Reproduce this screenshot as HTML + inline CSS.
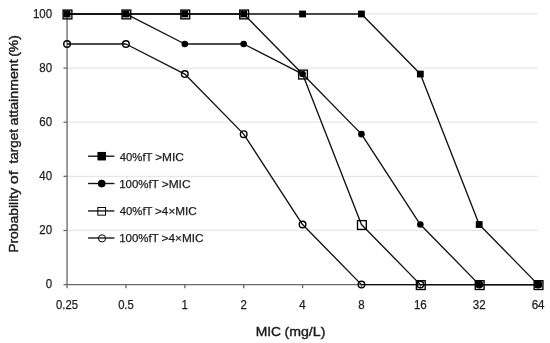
<!DOCTYPE html>
<html><head><meta charset="utf-8"><title>Probability of target attainment</title>
<style>
html,body{margin:0;padding:0;background:#fff;}
body{width:550px;height:343px;overflow:hidden;}
svg{display:block;}
text{font-family:"Liberation Sans",sans-serif;fill:#1c1c1c;stroke:#1c1c1c;stroke-width:0.25px;}
.t{stroke-width:0.4px;}
</style></head><body>
<svg width="550" height="343" viewBox="0 0 550 343">
<rect width="550" height="343" fill="#fff"/>

<line x1="67.05" x2="538.09" y1="230.47" y2="230.47" stroke="#e7e7e7" stroke-width="1.2"/>
<line x1="67.05" x2="538.09" y1="176.35" y2="176.35" stroke="#e7e7e7" stroke-width="1.2"/>
<line x1="67.05" x2="538.09" y1="122.22" y2="122.22" stroke="#e7e7e7" stroke-width="1.2"/>
<line x1="67.05" x2="538.09" y1="68.1" y2="68.1" stroke="#e7e7e7" stroke-width="1.2"/>
<line x1="67.05" x2="538.09" y1="13.97" y2="13.97" stroke="#e7e7e7" stroke-width="1.2"/>
<line x1="67.05" x2="67.05" y1="13.97" y2="288.20000000000005" stroke="#6a6a6a" stroke-width="1.35"/>
<line x1="63.449999999999996" x2="538.09" y1="284.6" y2="284.6" stroke="#6a6a6a" stroke-width="1.35"/>
<line x1="63.449999999999996" x2="67.05" y1="230.47" y2="230.47" stroke="#6a6a6a" stroke-width="1.3"/>
<line x1="63.449999999999996" x2="67.05" y1="176.35" y2="176.35" stroke="#6a6a6a" stroke-width="1.3"/>
<line x1="63.449999999999996" x2="67.05" y1="122.22" y2="122.22" stroke="#6a6a6a" stroke-width="1.3"/>
<line x1="63.449999999999996" x2="67.05" y1="68.1" y2="68.1" stroke="#6a6a6a" stroke-width="1.3"/>
<line x1="63.449999999999996" x2="67.05" y1="13.97" y2="13.97" stroke="#6a6a6a" stroke-width="1.3"/>
<line x1="125.93" x2="125.93" y1="284.6" y2="288.20000000000005" stroke="#6a6a6a" stroke-width="1.3"/>
<line x1="184.81" x2="184.81" y1="284.6" y2="288.20000000000005" stroke="#6a6a6a" stroke-width="1.3"/>
<line x1="243.69" x2="243.69" y1="284.6" y2="288.20000000000005" stroke="#6a6a6a" stroke-width="1.3"/>
<line x1="302.57" x2="302.57" y1="284.6" y2="288.20000000000005" stroke="#6a6a6a" stroke-width="1.3"/>
<line x1="361.45" x2="361.45" y1="284.6" y2="288.20000000000005" stroke="#6a6a6a" stroke-width="1.3"/>
<line x1="420.33" x2="420.33" y1="284.6" y2="288.20000000000005" stroke="#6a6a6a" stroke-width="1.3"/>
<line x1="479.21" x2="479.21" y1="284.6" y2="288.20000000000005" stroke="#6a6a6a" stroke-width="1.3"/>
<line x1="538.09" x2="538.09" y1="284.6" y2="288.20000000000005" stroke="#6a6a6a" stroke-width="1.3"/>
<polyline points="67.05,13.97 125.93,13.97 184.81,13.97 243.69,13.97 302.57,13.97 361.45,13.97 420.33,74.05 479.21,224.52 538.09,284.6" fill="none" stroke="#111" stroke-width="1.35" stroke-linejoin="round"/>
<polyline points="67.05,13.97 125.93,13.97 184.81,44.01 243.69,44.01 302.57,74.05 361.45,134.13 420.33,224.52 479.21,284.6 538.09,284.6" fill="none" stroke="#111" stroke-width="1.35" stroke-linejoin="round"/>
<polyline points="67.05,13.97 125.93,13.97 184.81,13.97 243.69,13.97 302.57,74.05 361.45,224.52 420.33,284.6 479.21,284.6 538.09,284.6" fill="none" stroke="#111" stroke-width="1.35" stroke-linejoin="round"/>
<polyline points="67.05,44.01 125.93,44.01 184.81,74.05 243.69,134.13 302.57,224.52 361.45,284.6 420.33,284.6 479.21,284.6 538.09,284.6" fill="none" stroke="#111" stroke-width="1.35" stroke-linejoin="round"/>
<rect x="63.65" y="10.57" width="6.8" height="6.8" fill="#000"/>
<rect x="122.53" y="10.57" width="6.8" height="6.8" fill="#000"/>
<rect x="181.41" y="10.57" width="6.8" height="6.8" fill="#000"/>
<rect x="240.29" y="10.57" width="6.8" height="6.8" fill="#000"/>
<rect x="299.17" y="10.57" width="6.8" height="6.8" fill="#000"/>
<rect x="358.05" y="10.57" width="6.8" height="6.8" fill="#000"/>
<rect x="416.93" y="70.65" width="6.8" height="6.8" fill="#000"/>
<rect x="475.81" y="221.12" width="6.8" height="6.8" fill="#000"/>
<rect x="534.69" y="281.20" width="6.8" height="6.8" fill="#000"/>
<circle cx="67.05" cy="13.97" r="3.3" fill="#000"/>
<circle cx="125.93" cy="13.97" r="3.3" fill="#000"/>
<circle cx="184.81" cy="44.01" r="3.3" fill="#000"/>
<circle cx="243.69" cy="44.01" r="3.3" fill="#000"/>
<circle cx="302.57" cy="74.05" r="3.3" fill="#000"/>
<circle cx="361.45" cy="134.13" r="3.3" fill="#000"/>
<circle cx="420.33" cy="224.52" r="3.3" fill="#000"/>
<circle cx="479.21" cy="284.6" r="3.3" fill="#000"/>
<circle cx="538.09" cy="284.6" r="3.3" fill="#000"/>
<rect x="63.10" y="10.07" width="8.8" height="8.8" fill="none" stroke="#000" stroke-width="1.35"/>
<rect x="121.98" y="10.07" width="8.8" height="8.8" fill="none" stroke="#000" stroke-width="1.35"/>
<rect x="180.86" y="10.07" width="8.8" height="8.8" fill="none" stroke="#000" stroke-width="1.35"/>
<rect x="239.74" y="10.07" width="8.8" height="8.8" fill="none" stroke="#000" stroke-width="1.35"/>
<rect x="298.62" y="70.15" width="8.8" height="8.8" fill="none" stroke="#000" stroke-width="1.35"/>
<rect x="357.50" y="220.62" width="8.8" height="8.8" fill="none" stroke="#000" stroke-width="1.35"/>
<rect x="416.38" y="280.70" width="8.8" height="8.8" fill="none" stroke="#000" stroke-width="1.35"/>
<rect x="475.26" y="280.70" width="8.8" height="8.8" fill="none" stroke="#000" stroke-width="1.35"/>
<rect x="534.14" y="280.70" width="8.8" height="8.8" fill="none" stroke="#000" stroke-width="1.35"/>
<circle cx="67.05" cy="44.01" r="3.3" fill="none" stroke="#000" stroke-width="1.4"/>
<circle cx="125.93" cy="44.01" r="3.3" fill="none" stroke="#000" stroke-width="1.4"/>
<circle cx="184.81" cy="74.05" r="3.3" fill="none" stroke="#000" stroke-width="1.4"/>
<circle cx="243.69" cy="134.13" r="3.3" fill="none" stroke="#000" stroke-width="1.4"/>
<circle cx="302.57" cy="224.52" r="3.3" fill="none" stroke="#000" stroke-width="1.4"/>
<circle cx="361.45" cy="284.6" r="3.3" fill="none" stroke="#000" stroke-width="1.4"/>
<circle cx="420.33" cy="284.6" r="3.3" fill="none" stroke="#000" stroke-width="1.4"/>
<circle cx="479.21" cy="284.6" r="3.3" fill="none" stroke="#000" stroke-width="1.4"/>
<circle cx="538.09" cy="284.6" r="3.3" fill="none" stroke="#000" stroke-width="1.4"/>
<text x="52.1" y="288.20" font-size="12.8" text-anchor="end" textLength="6.4" lengthAdjust="spacingAndGlyphs">0</text>
<text x="52.1" y="234.07" font-size="12.8" text-anchor="end" textLength="12.8" lengthAdjust="spacingAndGlyphs">20</text>
<text x="52.1" y="179.95" font-size="12.8" text-anchor="end" textLength="12.8" lengthAdjust="spacingAndGlyphs">40</text>
<text x="52.1" y="125.82" font-size="12.8" text-anchor="end" textLength="12.8" lengthAdjust="spacingAndGlyphs">60</text>
<text x="52.1" y="71.70" font-size="12.8" text-anchor="end" textLength="12.8" lengthAdjust="spacingAndGlyphs">80</text>
<text x="52.1" y="17.57" font-size="12.8" text-anchor="end" textLength="19.200000000000003" lengthAdjust="spacingAndGlyphs">100</text>
<text x="56.10" y="309" font-size="12.6" textLength="21.9" lengthAdjust="spacingAndGlyphs">0.25</text>
<text x="118.13" y="309" font-size="12.6" textLength="15.6" lengthAdjust="spacingAndGlyphs">0.5</text>
<text x="181.61" y="309" font-size="12.6" textLength="6.4" lengthAdjust="spacingAndGlyphs">1</text>
<text x="240.49" y="309" font-size="12.6" textLength="6.4" lengthAdjust="spacingAndGlyphs">2</text>
<text x="299.37" y="309" font-size="12.6" textLength="6.4" lengthAdjust="spacingAndGlyphs">4</text>
<text x="358.25" y="309" font-size="12.6" textLength="6.4" lengthAdjust="spacingAndGlyphs">8</text>
<text x="413.88" y="309" font-size="12.6" textLength="12.9" lengthAdjust="spacingAndGlyphs">16</text>
<text x="472.76" y="309" font-size="12.6" textLength="12.9" lengthAdjust="spacingAndGlyphs">32</text>
<text x="531.64" y="309" font-size="12.6" textLength="12.9" lengthAdjust="spacingAndGlyphs">64</text>
<text class="t" y="336" font-size="13.2"><tspan x="255.66" textLength="25.44" lengthAdjust="spacingAndGlyphs">MIC</tspan> <tspan x="284.49" textLength="40.87" lengthAdjust="spacingAndGlyphs">(mg/L)</tspan></text>
<text class="t" transform="translate(18.2,251.9) rotate(-90)" y="0" font-size="13.2"><tspan x="-0.96" textLength="64.95" lengthAdjust="spacingAndGlyphs">Probability</tspan> <tspan x="67.56" textLength="13.57" lengthAdjust="spacingAndGlyphs">of</tspan> <tspan x="88.47" textLength="34.39" lengthAdjust="spacingAndGlyphs">target</tspan> <tspan x="126.45" textLength="66.04" lengthAdjust="spacingAndGlyphs">attainment</tspan> <tspan x="195.12" textLength="21.55" lengthAdjust="spacingAndGlyphs">(%)</tspan></text>
<line x1="88.1" x2="114.4" y1="156.2" y2="156.2" stroke="#111" stroke-width="1.35"/>
<rect x="97.45" y="151.95" width="8.5" height="8.5" fill="#000"/>
<text y="161" font-size="11.8"><tspan x="119.75" textLength="32.56" lengthAdjust="spacingAndGlyphs">40%fT</tspan> <tspan x="155.16" textLength="28.74" lengthAdjust="spacingAndGlyphs">&gt;MIC</tspan></text>
<line x1="88.1" x2="114.4" y1="183.5" y2="183.5" stroke="#111" stroke-width="1.35"/>
<circle cx="101.7" cy="183.6" r="3.85" fill="#000"/>
<text y="188" font-size="11.8"><tspan x="119.18" textLength="39.40" lengthAdjust="spacingAndGlyphs">100%fT</tspan> <tspan x="161.67" textLength="28.87" lengthAdjust="spacingAndGlyphs">&gt;MIC</tspan></text>
<line x1="88.1" x2="114.4" y1="210.95" y2="210.95" stroke="#111" stroke-width="1.35"/>
<rect x="97.85" y="207.45" width="7.7" height="7.7" fill="none" stroke="#000" stroke-width="1.0"/>
<text y="215" font-size="11.8"><tspan x="119.75" textLength="32.56" lengthAdjust="spacingAndGlyphs">40%fT</tspan> <tspan x="155.01" textLength="41.75" lengthAdjust="spacingAndGlyphs">&gt;4×MIC</tspan></text>
<line x1="88.1" x2="114.4" y1="238.0" y2="238.0" stroke="#111" stroke-width="1.35"/>
<circle cx="102.0" cy="238.35" r="3.6" fill="none" stroke="#000" stroke-width="1.0"/>
<text y="242" font-size="11.8"><tspan x="119.18" textLength="39.40" lengthAdjust="spacingAndGlyphs">100%fT</tspan> <tspan x="161.54" textLength="42.14" lengthAdjust="spacingAndGlyphs">&gt;4×MIC</tspan></text>
</svg></body></html>
